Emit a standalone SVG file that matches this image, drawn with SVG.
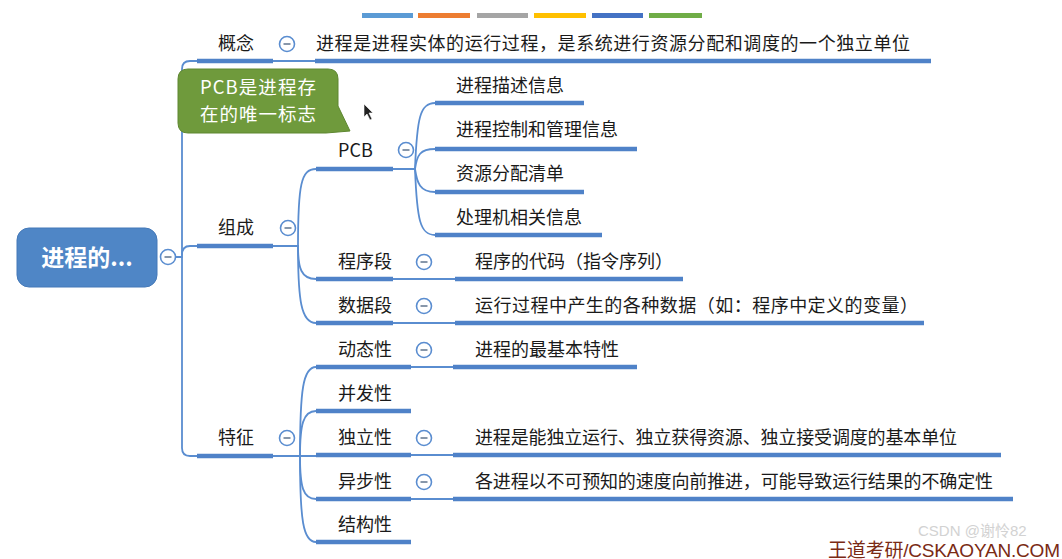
<svg xmlns="http://www.w3.org/2000/svg" width="1062" height="559" viewBox="0 0 1062 559">
<style>
.t{font-family:"Noto Sans CJK SC","Liberation Sans",sans-serif;font-size:18px;fill:#1a1a1a}
.thin{fill:none;stroke:#5a8dd0;stroke-width:1.8;stroke-linecap:round}
.ul{fill:none;stroke:#4f82c8;stroke-width:4.5}
.w{font-family:"Noto Sans CJK SC",sans-serif;font-size:18.5px;fill:#fff}
</style>
<defs>
<g id="minus"><circle r="7.5" fill="#fff" stroke="#5a8dd0" stroke-width="1.6"/><line x1="-3.5" y1="0" x2="3.5" y2="0" stroke="#6a7d95" stroke-width="1.6"/></g>
</defs>
<rect width="1062" height="559" fill="#fff"/>
<g id="colorbar">
<rect x="362" y="13" width="51" height="5" fill="#5b9bd5"/>
<rect x="418" y="13" width="52" height="5" fill="#ed7d31"/>
<rect x="477" y="13" width="51" height="5" fill="#a5a5a5"/>
<rect x="534" y="13" width="52" height="5" fill="#ffc000"/>
<rect x="592" y="13" width="51" height="5" fill="#4472c4"/>
<rect x="649" y="13" width="53" height="5" fill="#70ad47"/>
</g>
<g id="connectors">
<path class="thin" d="M175,257 H182"/>
<path class="thin" d="M197,61 H190 Q182,61 182,69 V448 Q182,456 190,456 H197"/>
<path class="thin" d="M182,255 Q182,246 190,246 H197"/>
<path class="thin" d="M273,61 H315"/>
<path class="thin" d="M273,246 H298"/>
<path class="thin" d="M273,456 H300"/>
<path class="thin" d="M298,246 C298,185 301,169 316,169"/>
<path class="thin" d="M298,246 C298,268 301,279 316,279"/>
<path class="thin" d="M298,246 C298,300 301,323 316,323"/>
<path class="thin" d="M393,169 H415"/>
<path class="thin" d="M415,169 C417,118 420,103 435,103"/>
<path class="thin" d="M415,169 C417,155 420,149 435,149"/>
<path class="thin" d="M415,169 C417,183 420,192 435,192"/>
<path class="thin" d="M415,169 C417,220 420,235 435,235"/>
<path class="thin" d="M393,279 H455"/>
<path class="thin" d="M393,323 H455"/>
<path class="thin" d="M300,456 C300,390 303,367 316,367"/>
<path class="thin" d="M300,456 C300,425 303,411 316,411"/>
<path class="thin" d="M300,456 H316"/>
<path class="thin" d="M300,456 C300,487 303,499 316,499"/>
<path class="thin" d="M300,456 C300,520 303,542 316,542"/>
<path class="thin" d="M411,367 H453"/>
<path class="thin" d="M411,455 H453"/>
<path class="thin" d="M411,499 H453"/>
</g>
<g id="root">
<rect x="17" y="228" width="140" height="59" rx="12" fill="#4f86c6" stroke="#4579b8" stroke-width="1"/>
<text x="87" y="266" text-anchor="middle" style="font-family:'Noto Sans CJK SC',sans-serif;font-size:23px;font-weight:bold;fill:#fff">进程的...</text>
</g>
<g id="n-gainian"><line class="ul" x1="197" y1="61" x2="273" y2="61"/><text class="t" x="218" y="50">概念</text></g>
<g id="n-gainian-c"><line class="ul" x1="315" y1="61" x2="931" y2="61"/><text class="t" x="316" y="50" textLength="594">进程是进程实体的运行过程，是系统进行资源分配和调度的一个独立单位</text></g>
<g id="n-zucheng"><line class="ul" x1="197" y1="246" x2="273" y2="246"/><text class="t" x="218" y="234">组成</text></g>
<g id="n-tezheng"><line class="ul" x1="197" y1="456" x2="273" y2="456"/><text class="t" x="218" y="444">特征</text></g>
<g id="n-pcb"><line class="ul" x1="316" y1="169" x2="393" y2="169"/><text class="t" x="338" y="157">PCB</text></g>
<g id="n-pcb1"><line class="ul" x1="435" y1="103" x2="584" y2="103"/><text class="t" x="456" y="92">进程描述信息</text></g>
<g id="n-pcb2"><line class="ul" x1="435" y1="149" x2="637" y2="149"/><text class="t" x="456" y="136">进程控制和管理信息</text></g>
<g id="n-pcb3"><line class="ul" x1="435" y1="192" x2="584" y2="192"/><text class="t" x="456" y="180">资源分配清单</text></g>
<g id="n-pcb4"><line class="ul" x1="435" y1="235" x2="602" y2="235"/><text class="t" x="456" y="224">处理机相关信息</text></g>
<g id="n-cxd"><line class="ul" x1="316" y1="279" x2="393" y2="279"/><text class="t" x="338" y="268">程序段</text></g>
<g id="n-cxd-c"><line class="ul" x1="455" y1="279" x2="683" y2="279"/><text class="t" x="475" y="268">程序的代码（指令序列）</text></g>
<g id="n-sjd"><line class="ul" x1="316" y1="323" x2="393" y2="323"/><text class="t" x="338" y="312">数据段</text></g>
<g id="n-sjd-c"><line class="ul" x1="455" y1="323" x2="924" y2="323"/><text class="t" x="475" y="312" textLength="443">运行过程中产生的各种数据（如：程序中定义的变量）</text></g>
<g id="n-dtx"><line class="ul" x1="316" y1="367" x2="411" y2="367"/><text class="t" x="338" y="356">动态性</text></g>
<g id="n-dtx-c"><line class="ul" x1="453" y1="367" x2="637" y2="367"/><text class="t" x="475" y="356">进程的最基本特性</text></g>
<g id="n-bfx"><line class="ul" x1="316" y1="411" x2="411" y2="411"/><text class="t" x="338" y="400">并发性</text></g>
<g id="n-dlx"><line class="ul" x1="316" y1="455" x2="411" y2="455"/><text class="t" x="338" y="444">独立性</text></g>
<g id="n-dlx-c"><line class="ul" x1="453" y1="455" x2="1001" y2="455"/><text class="t" x="475" y="444" textLength="482">进程是能独立运行、独立获得资源、独立接受调度的基本单位</text></g>
<g id="n-ybx"><line class="ul" x1="316" y1="499" x2="411" y2="499"/><text class="t" x="338" y="488">异步性</text></g>
<g id="n-ybx-c"><line class="ul" x1="453" y1="499" x2="1013" y2="499"/><text class="t" x="475" y="488" textLength="518">各进程以不可预知的速度向前推进，可能导致运行结果的不确定性</text></g>
<g id="n-jgx"><line class="ul" x1="316" y1="542" x2="411" y2="542"/><text class="t" x="338" y="531">结构性</text></g>
<g id="icons">
<use href="#minus" x="168" y="257"/>
<use href="#minus" x="287" y="44"/>
<use href="#minus" x="288" y="228"/>
<use href="#minus" x="287" y="438"/>
<use href="#minus" x="406" y="150"/>
<use href="#minus" x="424" y="262"/>
<use href="#minus" x="424" y="306"/>
<use href="#minus" x="424" y="350"/>
<use href="#minus" x="424" y="438"/>
<use href="#minus" x="424" y="482"/>
</g>
<g id="callout">
<path d="M188,69 H328 Q338,69 338,79 V106 L350,131 L326,133 H188 Q178,133 178,123 V79 Q178,69 188,69 Z" fill="#6f9a3c" stroke="#5e8731" stroke-width="1"/>
<text class="w" x="258" y="94" textLength="116" text-anchor="middle">PCB是进程存</text>
<text class="w" x="258" y="121" textLength="116" text-anchor="middle">在的唯一标志</text>
</g>
<path id="cursor" d="M364,104 L364,117 L367,114 L370,120 L372,119 L369,113 L373,113 Z" fill="#222" stroke="#fff" stroke-width="0.6"/>
<g id="watermark">
<text x="918" y="536" style="font-family:'Liberation Sans','Noto Sans CJK SC',sans-serif;font-size:15px;fill:#c8c8c8;opacity:0.8">CSDN @谢怜82</text>
<text x="828" y="557" textLength="232" style="font-family:'Liberation Sans','Noto Sans CJK SC',sans-serif;font-size:19px;fill:#7a2a14">王道考研/CSKAOYAN.COM</text>
</g>
</svg>
